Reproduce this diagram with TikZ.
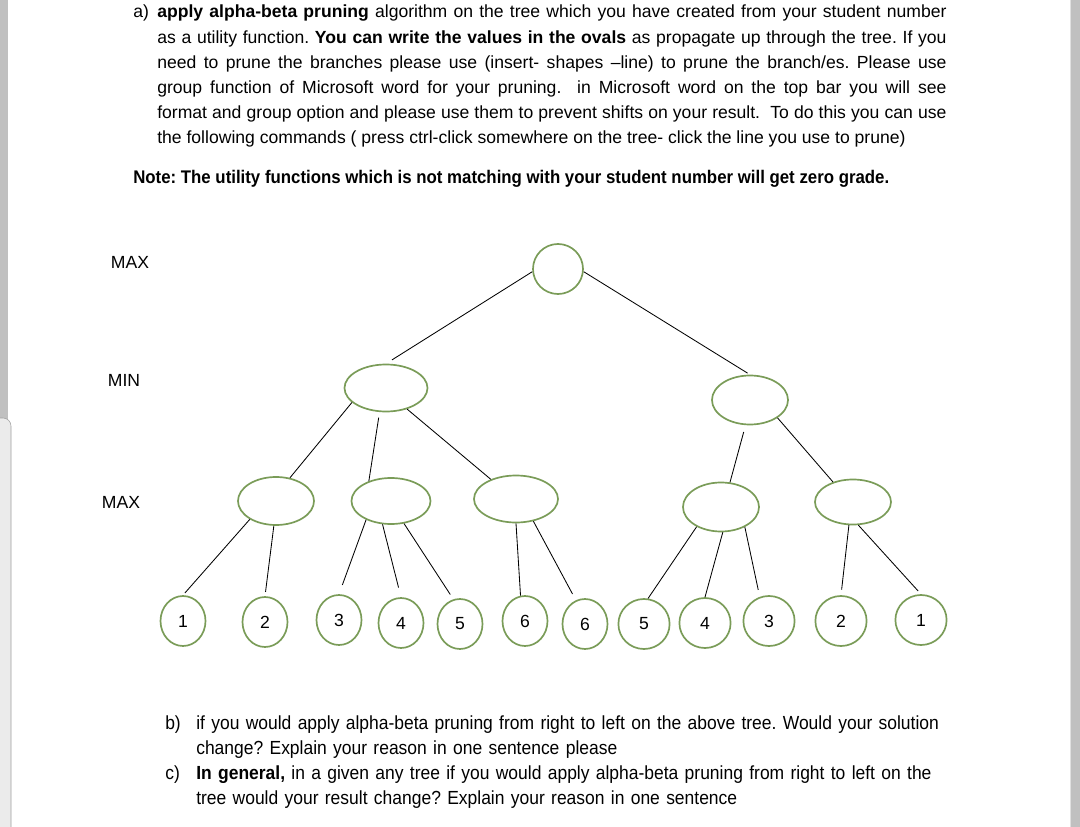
\documentclass[tikz,border=0pt]{standalone}
\usepackage{fontspec}
\setmainfont{Liberation Sans}
\newfontfamily\narrowfont[FakeStretch=0.92]{Liberation Sans}
\usetikzlibrary{shapes.geometric}
\definecolor{ovalgreen}{RGB}{122,156,88}
\definecolor{barcolor}{RGB}{192,192,192}
\definecolor{tabcolor}{RGB}{235,235,235}
\definecolor{tabedge}{RGB}{160,160,160}
\frenchspacing

\begin{document}
\begin{tikzpicture}[x=0.025cm, y=-0.025cm,
    oval/.style={ellipse, draw=ovalgreen, line width=1.2pt, inner sep=0pt, font=\fontsize{12.5}{14}\selectfont},
    leaf/.style={oval, minimum width=1.125cm, minimum height=1.25cm},
    wideleaf/.style={leaf, minimum width=1.28cm},
    level/.style={font=\fontsize{12.5}{14}\selectfont, inner sep=0pt},
    link/.style={draw, line width=0.6pt}]

    \useasboundingbox (0,0) rectangle (1080,827);
    \fill[white] (0,0) rectangle (1080,827);

    % Window edges
    \fill[barcolor] (0,0) rectangle (8,827);
    \path[fill=tabcolor, draw=tabedge, rounded corners=0.2cm] (-10,840) -- (-10,418) -- (11,418) -- (11,840);
    \fill[barcolor] (1071,0) rectangle (1080,827);
    \draw[black!12] (1070,0) -- (1070,827);

    % Question text
    \node[anchor=base west, inner sep=0pt, font=\fontsize{12.5}{17.78}\selectfont] (qa) at (133,18) {a)};
    \node[anchor=base west, inner sep=0pt, text width=19.725cm, align=justify, font=\fontsize{12.5}{17.78}\selectfont] (parta) at (157,18)
        {\textbf{apply alpha-beta pruning} algorithm on the tree which you have created from your student number\linebreak
         as a utility function. \textbf{You can write the values in the ovals} as propagate up through the tree. If you\linebreak
         need to prune the branches please use (insert- shapes --line) to prune the branch/es. Please use\linebreak
         group function of Microsoft word for your pruning.\ \ in Microsoft word on the top bar you will see\linebreak
         format and group option and please use them to prevent shifts on your result.\ \ To do this you can use\linebreak
         the following commands ( press ctrl-click somewhere on the tree- click the line you use to prune)};
    \node[anchor=base west, inner sep=0pt, font=\narrowfont\bfseries\fontsize{13}{15}\selectfont] (note) at (133,184)
        {Note: The utility functions which is not matching with your student number will get zero grade.};

    % Level labels
    \node[level] (lmax1) at (130,262) {MAX};
    \node[level] (lmin) at (124,380) {MIN};
    \node[level] (lmax2) at (121,502) {MAX};

    % Root and MIN nodes
    \node[oval, minimum width=1.25cm, minimum height=1.25cm] (root) at (558,269) {};
    \node[oval, minimum width=2.075cm, minimum height=1.175cm] (minL) at (386,388) {};
    \node[oval, minimum width=1.9cm, minimum height=1.225cm] (minR) at (750,400) {};

    % MAX nodes
    \node[oval, minimum width=1.9cm, minimum height=1.2cm] (maxA) at (276,501) {};
    \node[oval, minimum width=1.975cm, minimum height=1.15cm] (maxB) at (391,501) {};
    \node[oval, minimum width=2.1cm, minimum height=1.175cm] (maxC) at (516,499) {};
    \node[oval, minimum width=1.9cm, minimum height=1.225cm] (maxD) at (721,507) {};
    \node[oval, minimum width=1.9cm, minimum height=1.125cm] (maxE) at (853,502) {};

    % Utility values
    \node[leaf] (u1) at (183,621) {1};
    \node[leaf] (u2) at (265,622) {2};
    \node[leaf] (u3) at (339,620) {3};
    \node[leaf] (u4) at (401,623) {4};
    \node[leaf] (u5) at (460,624) {5};
    \node[leaf] (u6) at (525,621) {6};
    \node[leaf] (u7) at (585,624) {6};
    \node[wideleaf] (u8) at (644,624) {5};
    \node[wideleaf] (u9) at (705,623) {4};
    \node[wideleaf] (u10) at (769,621) {3};
    \node[wideleaf] (u11) at (841,621) {2};
    \node[wideleaf] (u12) at (921,620) {1};

    % Branches
    \draw[link, shorten >=5pt] (root.186) -- (minL.north);
    \draw[link, shorten >=2pt] (root.-6) -- (minR.north);
    \draw[link] (minL.203) -- (maxA.59);
    \draw[link, shorten <=4pt] (minL.255) -- (maxB.138);
    \draw[link] (minL.-45) -- (maxC.142);
    \draw[link, shorten <=5pt] (minR.-100) -- (maxD.70);
    \draw[link] (minR.-33) -- (maxE.135);
    \draw[link, shorten >=2pt] (maxA.215) -- (u1.north);
    \draw[link, shorten >=3pt] (maxA.265) -- (u2.north);
    \draw[link, shorten >=7pt] (maxB.217) -- (u3.north);
    \draw[link, shorten >=7pt] (maxB.250) -- (u4.north);
    \draw[link, shorten >=4pt] (maxB.-60) -- (u5.105);
    \draw[link] (maxC.south) -- (u6.100);
    \draw[link, shorten >=5pt] (maxC.-52) -- (u7.111);
    \draw[link] (maxD.219) -- (u8.81);
    \draw[link] (maxD.-86) -- (u9.north);
    \draw[link, shorten >=5pt] (maxD.-40) -- (u10.111);
    \draw[link, shorten >=4pt] (maxE.-100) -- (u11.north);
    \draw[link, shorten >=3pt] (maxE.-77) -- (u12.north);

    % Follow-up questions
    \node[anchor=base west, inner sep=0pt, font=\narrowfont\fontsize{13.5}{17.78}\selectfont] (qb) at (165,729) {b)};
    \node[anchor=base west, inner sep=0pt, text width=20cm, align=left, font=\narrowfont\fontsize{13.5}{17.78}\selectfont] (partb) at (196,729)
        {if you would apply alpha-beta pruning from right to left on the above tree. Would your solution\\
         change? Explain your reason in one sentence please};
    \node[anchor=base west, inner sep=0pt, font=\narrowfont\fontsize{13.5}{17.78}\selectfont] (qc) at (165,779) {c)};
    \node[anchor=base west, inner sep=0pt, text width=20cm, align=left, font=\narrowfont\fontsize{13.5}{17.78}\selectfont] (partc) at (196,779)
        {\textbf{In general,} in a given any tree if you would apply alpha-beta pruning from right to left on the\\
         tree would your result change? Explain your reason in one sentence};
\end{tikzpicture}
\end{document}
